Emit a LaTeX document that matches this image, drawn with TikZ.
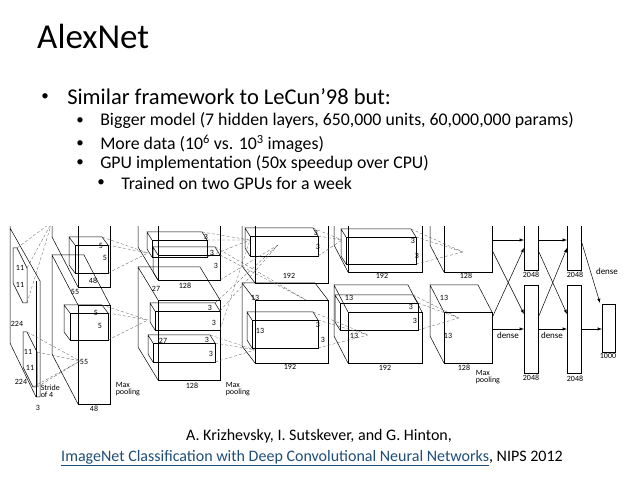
\documentclass[tikz,border=0pt]{standalone}
\usepackage{fontspec}
\setmainfont{Carlito}
\newcommand{\mycub}[6]{%
 \draw (#1,#2) rectangle (#3,#4);
 \draw (#1,#2) -- ++(#5,#6) -- ++(0,#4-#2) -- (#1,#4);
 \draw (#1+#5,#2+#6) -- (#3+#5,#2+#6) -- (#3,#2);}
\tikzset{lab/.style={font=\fontsize{8}{9}\selectfont,inner sep=0.5pt},
 dl/.style={densely dashed,line width=0.3pt,gray!70!black},
 ar/.style={-latex,line width=0.5pt},
 bl/.style={anchor=west,font=\fontsize{17.8}{20}\selectfont,inner sep=0},
 bd/.style={font=\fontsize{15}{18}\selectfont,inner sep=0}}
\begin{document}
\begin{tikzpicture}[x=1pt,y=-1pt,line width=0.5pt]
\useasboundingbox (0,0) rectangle (638,478);
\node[anchor=west,inner sep=0,font=\fontsize{35}{38}\selectfont] (title) at (37,36) {AlexNet};
\node[bd] (b0) at (45,97) {•};
\node[bl,font=\fontsize{22.5}{24}\selectfont] (t0) at (67,97) {Similar framework to LeCun’98 but:};
\node[bd] (b1) at (80,121) {•};
\node[bl] (t1) at (100,121) {Bigger model (7 hidden layers, 650,000 units, 60,000,000 params)};
\node[bd] (b2) at (80,144) {•};
\node[bl] (t2) at (100,144) {More data (10\textsuperscript{6} vs. 10\textsuperscript{3} images)};
\node[bd] (b3) at (80,163) {•};
\node[bl] (t3) at (100,163) {GPU implementation (50x speedup over CPU)};
\node[bd] (b4) at (101,183) {•};
\node[bl] (t4) at (121,183) {Trained on two GPUs for a week};
\node[inner sep=0,font=\fontsize{16}{18}\selectfont] (c1) at (319,436) {A. Krizhevsky, I. Sutskever, and G. Hinton,};
\node[inner sep=0,font=\fontsize{16}{18}\selectfont] (c2) at (312,458) {\textcolor[RGB]{31,78,121}{\underline{ImageNet Classification with Deep Convolutional Neural Networks}}, NIPS 2012};
\begin{scope}
\clip (0,227) rectangle (638,420);
% input
\draw (10,190) -- (10,343) -- (36,397) -- (40,397) -- (40,281) -- (10,228);
\draw (36,281) -- (36,397);
\draw (13,248) -- (17,248) -- (27,268) -- (27,303) -- (23,303) -- (13,283) -- cycle;
\draw (23,332) -- (27,332) -- (37,352) -- (37,387) -- (33,387) -- (23,367) -- cycle;
% layer 1
\mycub{78}{180}{110}{287}{-26}{-50}
\mycub{78}{305}{110}{404}{-26}{-50}
\mycub{75}{245}{108}{273}{-6}{-8}
\mycub{70}{313}{108}{340}{-6}{-8}
% layer 2
\mycub{158}{190}{220}{280}{-20}{-33}
\mycub{158}{300}{220}{380}{-20}{-33}
\mycub{152}{240}{207}{257}{-5}{-8}
\mycub{158}{255}{220}{280}{-5}{-8}
\mycub{155}{311}{220}{330}{-5}{-8}
\mycub{153}{343}{215}{362}{-5}{-8}
% layer 3
\mycub{255}{190}{328}{283}{-13}{-17}
\mycub{255}{300}{328}{363}{-13}{-17}
\mycub{250}{236}{318}{256}{-5}{-8}
\mycub{252}{320}{318}{348}{-5}{-8}
% layer 4
\mycub{348}{190}{422}{272}{-14}{-27}
\mycub{348}{312}{422}{363}{-14}{-27}
\mycub{346}{237}{416}{264}{-5}{-8}
\mycub{340}{303}{418}{330}{-5}{-8}
% layer 5
\mycub{444}{190}{492}{272}{-14}{-27}
\mycub{444}{312}{492}{363}{-14}{-27}
% dashed
\coordinate (p1) at (52,222); \coordinate (p2) at (80,361);
\coordinate (p3) at (148,253); \coordinate (p4) at (148,320);
\coordinate (p5) at (250,240); \coordinate (p6) at (278,245);
\coordinate (p7) at (306,300); \coordinate (p8) at (255,350);
\coordinate (p9) at (342,240); \coordinate (p10) at (368,335);
\coordinate (p11) at (463,252); \coordinate (p12) at (459,318);
\draw[dl] (17,248) -- (p1) (27,303) -- (p1) (27,268) -- (p1);
\draw[dl] (27,332) -- (p2) (37,352) -- (p2) (37,387) -- (p2) (33,387) -- (p2);
\draw[dl] (102,237) -- (p3) (108,245) -- (p3) (108,273) -- (p3);
\draw[dl] (102,305) -- (p4) (108,313) -- (p4) (108,340) -- (p4);
\draw[dl] (202,232) -- (p5) (207,240) -- (p5) (207,257) -- (p5);
\draw[dl] (220,255) -- (p7) (220,280) -- (p6) (215,247) -- (p7);
\draw[dl] (215,303) -- (p6) (220,311) -- (p6) (220,330) -- (p5);
\draw[dl] (210,335) -- (p8) (215,343) -- (p8) (215,362) -- (p8);
\draw[dl] (313,228) -- (p9) (318,236) -- (p9) (318,256) -- (p9);
\draw[dl] (313,312) -- (p10) (318,320) -- (p10) (318,348) -- (p10);
\draw[dl] (411,229) -- (p11) (416,237) -- (p11) (416,264) -- (p11);
\draw[dl] (413,295) -- (p12) (418,303) -- (p12) (418,330) -- (p12);
% dense
\draw (524,190) rectangle (538,270);
\draw (524,285) rectangle (538,373);
\draw (567,190) rectangle (581,270);
\draw (567,285) rectangle (581,373);
\draw (602,304) rectangle (615,352);
\draw[ar] (492,240) -- (524,240);
\draw[ar] (538,240) -- (567,240);
\draw[ar] (492,329) -- (524,329);
\draw[ar] (538,329) -- (567,329);
\draw[ar] (581,329) -- (602,329);
\draw[ar] (492,250) -- (524,314);
\draw[ar] (492,318) -- (524,248);
\draw[ar] (538,250) -- (567,314);
\draw[ar] (538,318) -- (567,248);
\draw[ar] (581,240) -- (600,303);
\end{scope}
\begin{scope}[every node/.style={lab}]
\node (l1) at (20,268) {11}; \node (l2) at (20,285) {11};
\node (l3) at (28,352) {11}; \node (l4) at (30,368) {11};
\node (l5) at (17,324) {224}; \node (l6) at (21,382) {224};
\node (l7) at (38,408) {3};
\node[anchor=west,align=left] (l8) at (40,391) {Stride\\[-2pt]of 4};
\node (l9) at (101,246) {5}; \node (l10) at (105,258) {5};
\node (l11) at (96,313) {5}; \node (l12) at (100,326) {5};
\node (l13) at (93,281) {48}; \node (l14) at (94,409) {48};
\node (l15) at (75,292) {55}; \node (l16) at (84,362) {55};
\node[anchor=west,align=left] (l17) at (115,389) {Max\\[-2pt]pooling};
\node (l18) at (206,237) {3}; \node (l19) at (212,253) {3}; \node (l20) at (216,266) {3};
\node (l21) at (210,308) {3}; \node (l22) at (214,323) {3};
\node (l23) at (207,340) {3}; \node (l24) at (211,354) {3};
\node (l25) at (156,289) {27}; \node (l26) at (163,341) {27};
\node (l27) at (185,286) {128}; \node (l28) at (192,386) {128};
\node[anchor=west,align=left] (l29) at (225,389) {Max\\[-2pt]pooling};
\node (l30) at (316,233) {3}; \node (l31) at (318,247) {3};
\node (l32) at (289,276) {192}; \node (l33) at (290,367) {192};
\node (l34) at (255,298) {13}; \node (l35) at (260,331) {13};
\node (l36) at (318,325) {3}; \node (l37) at (323,340) {3};
\node (l38) at (413,241) {3}; \node (l39) at (417,256) {3};
\node (l40) at (411,307) {3}; \node (l41) at (415,321) {3};
\node (l42) at (349,298) {13}; \node (l43) at (354,336) {13};
\node (l44) at (382,276) {192}; \node (l45) at (385,368) {192};
\node (l46) at (444,298) {13}; \node (l47) at (448,336) {13};
\node (l48) at (466,276) {128}; \node (l49) at (464,368) {128};
\node[anchor=west,align=left] (l50) at (475,377) {Max\\[-2pt]pooling};
\node (l51) at (531,275) {2048}; \node (l52) at (575,275) {2048};
\node (l53) at (531,378) {2048}; \node (l54) at (575,379) {2048};
\node (l55) at (608,356) {1000};
\node[font=\fontsize{9}{10}\selectfont] (l56) at (607,271) {dense};
\node[font=\fontsize{9}{10}\selectfont] (l57) at (508,335) {dense};
\node[font=\fontsize{9}{10}\selectfont] (l58) at (552,335) {dense};
\end{scope}
\end{tikzpicture}
\end{document}
